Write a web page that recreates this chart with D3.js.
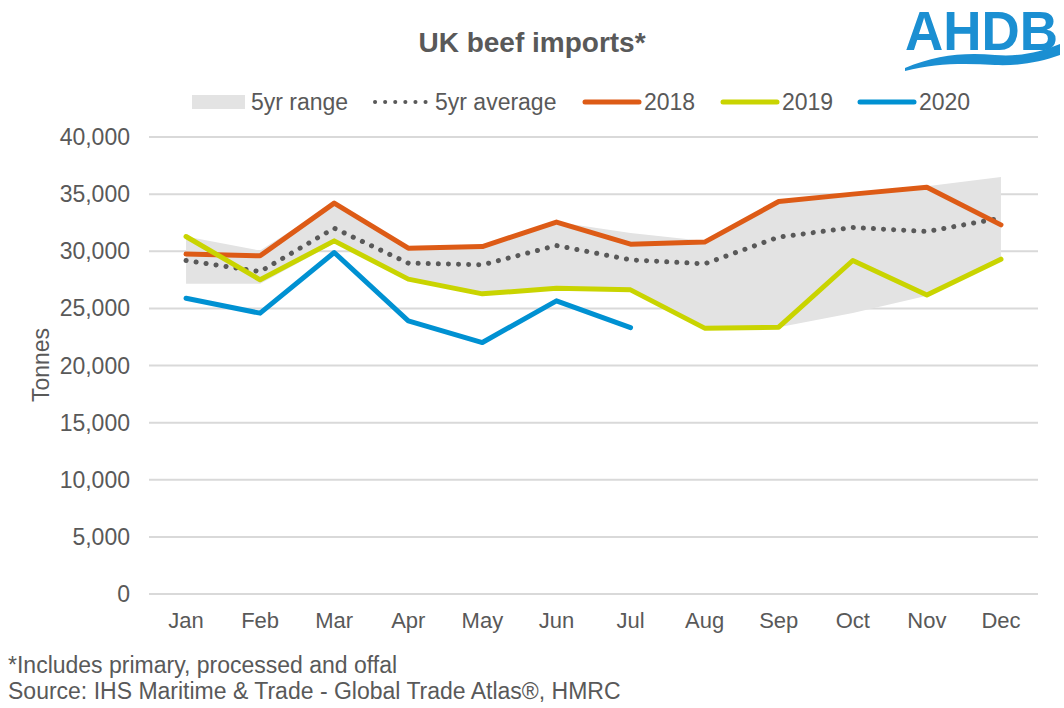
<!DOCTYPE html>
<meta charset="utf-8">
<style>
  body { margin: 0; background: #fff; }
  text { font-family: "Liberation Sans", Arial, sans-serif; fill: #595959; }
</style>
<body>
<script src="https://cdn.jsdelivr.net/npm/d3@7"></script>
<script>
// chart data
var months = ["Jan","Feb","Mar","Apr","May","Jun","Jul","Aug","Sep","Oct","Nov","Dec"];
var rangeMax = [31300, 30060, 34210, 30270, 30410, 32550, 31590, 30900, 34350, 35050, 35700, 36490];
var rangeMin = [27150, 27150, 30700, 27560, 26270, 26770, 26620, 23270, 23350, 24600, 26100, 29310];
var avg5yr   = [29190, 28220, 32020, 28960, 28810, 30500, 29250, 28900, 31240, 32080, 31730, 32900];
var y2018    = [29750, 29600, 34210, 30270, 30410, 32550, 30620, 30800, 34350, 35000, 35610, 32310];
var y2019    = [31290, 27500, 30910, 27560, 26270, 26770, 26620, 23270, 23350, 29190, 26180, 29310];
var y2020    = [25890, 24580, 29890, 23910, 22010, 25660, 23320];
var yTicks   = [0, 5000, 10000, 15000, 20000, 25000, 30000, 35000, 40000];

var width = 1064, height = 708;
var margin = {top: 137, right: 26, bottom: 114, left: 149};

var svg = d3.select("body").append("svg")
  .attr("width", width)
  .attr("height", height);

var x = d3.scaleBand()
  .domain(months)
  .range([margin.left, width - margin.right]);

var y = d3.scaleLinear()
  .domain([0, 40000])
  .range([height - margin.bottom, margin.top]);

function cx(i) { return x(months[i]) + x.bandwidth() / 2; }

// horizontal gridlines
svg.append("g")
  .selectAll("line")
  .data(yTicks)
  .enter().append("line")
    .attr("x1", x.range()[0])
    .attr("x2", x.range()[1])
    .attr("y1", function(d) { return y(d); })
    .attr("y2", function(d) { return y(d); })
    .attr("stroke", "#d9d9d9")
    .attr("stroke-width", 2);

// y axis labels
svg.append("g")
  .selectAll("text")
  .data(yTicks)
  .enter().append("text")
    .attr("x", 130)
    .attr("y", function(d) { return y(d) + 8; })
    .attr("text-anchor", "end")
    .style("font-size", "23px")
    .text(function(d) { return d3.format(",")(d); });

// x axis labels
svg.append("g")
  .selectAll("text")
  .data(months)
  .enter().append("text")
    .attr("x", function(d, i) { return cx(i); })
    .attr("y", 628)
    .attr("text-anchor", "middle")
    .style("font-size", "22px")
    .text(function(d) { return d; });

// 5yr range band
var area = d3.area()
  .x(function(d, i) { return cx(i); })
  .y0(function(d, i) { return y(rangeMin[i]); })
  .y1(function(d) { return y(d); });

svg.append("path")
  .datum(rangeMax)
  .attr("d", area)
  .attr("fill", "#e3e3e3");

var line = d3.line()
  .x(function(d, i) { return cx(i); })
  .y(function(d) { return y(d); });

// 5yr average dotted
svg.append("path")
  .datum(avg5yr)
  .attr("d", line)
  .attr("fill", "none")
  .attr("stroke", "#595959")
  .attr("stroke-width", 5)
  .attr("stroke-linecap", "round")
  .attr("stroke-dasharray", "0.1 10");

var series = [
  {name: "2018", values: y2018, color: "#dd5b16"},
  {name: "2019", values: y2019, color: "#c9d400"},
  {name: "2020", values: y2020, color: "#0091d2"}
];

series.forEach(function(s) {
  svg.append("path")
    .datum(s.values)
    .attr("d", line)
    .attr("fill", "none")
    .attr("stroke", s.color)
    .attr("stroke-width", 5)
    .attr("stroke-linecap", "round")
    .attr("stroke-linejoin", "round");
});

// title
svg.append("text")
  .attr("x", 532)
  .attr("y", 52)
  .attr("text-anchor", "middle")
  .style("font-size", "28px")
  .style("font-weight", "bold")
  .text("UK beef imports*");

// y axis title
svg.append("text")
  .attr("transform", "translate(49,365) rotate(-90)")
  .attr("text-anchor", "middle")
  .style("font-size", "23px")
  .text("Tonnes");

// legend
var lg = svg.append("g");
lg.append("rect")
  .attr("x", 192).attr("y", 95).attr("width", 53).attr("height", 14)
  .attr("fill", "#e3e3e3");
lg.append("text").attr("x", 251).attr("y", 110).style("font-size", "23px").text("5yr range");

lg.append("line")
  .attr("x1", 375).attr("x2", 426).attr("y1", 102).attr("y2", 102)
  .attr("stroke", "#595959").attr("stroke-width", 4)
  .attr("stroke-linecap", "round").attr("stroke-dasharray", "0.1 10");
lg.append("text").attr("x", 435).attr("y", 110).style("font-size", "23px").text("5yr average");

var legendX = [585, 723, 860];
series.forEach(function(s, i) {
  lg.append("line")
    .attr("x1", legendX[i]).attr("x2", legendX[i] + 54)
    .attr("y1", 102).attr("y2", 102)
    .attr("stroke", s.color).attr("stroke-width", 5)
    .attr("stroke-linecap", "round");
  lg.append("text").attr("x", legendX[i] + 59).attr("y", 110)
    .style("font-size", "23px").text(s.name);
});

// footnotes
svg.append("text").attr("x", 8).attr("y", 673).style("font-size", "23px")
  .text("*Includes primary, processed and offal");
svg.append("text").attr("x", 8).attr("y", 699).style("font-size", "23px")
  .text("Source: IHS Maritime & Trade - Global Trade Atlas\u00ae, HMRC");

// AHDB logo
var logo = svg.append("g");
logo.append("text")
  .attr("x", 905).attr("y", 50)
  .attr("textLength", 153)
  .attr("lengthAdjust", "spacingAndGlyphs")
  .style("font-size", "55px")
  .style("font-weight", "bold")
  .style("fill", "#1b8fd2")
  .text("AHDB");
logo.append("path")
  .attr("d", "M905,68 C935,55 965,52 995,55 C1020,57 1040,52 1060,44 L1060,55 C1040,62 1020,66 995,65 C965,63 935,63 905,71 Z")
  .attr("fill", "#1b8fd2");
</script>
</body>
